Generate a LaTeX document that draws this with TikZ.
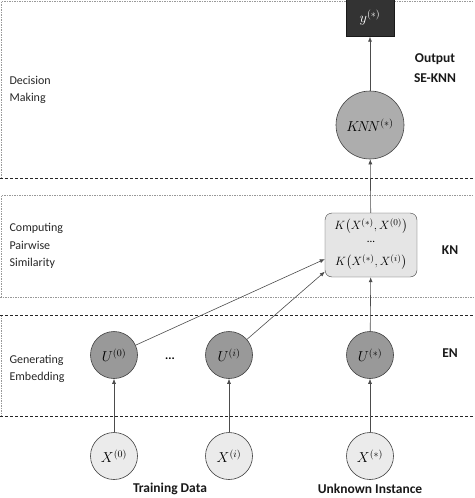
\documentclass[tikz,border=0pt]{standalone}
\usepackage{fontspec}
\setmainfont{Carlito}
\usepackage{amsmath}
\usetikzlibrary{arrows.meta}
\begin{document}
\begin{tikzpicture}[x=1pt,y=-1pt,
  graybound/.style={draw=black!40, dash pattern=on 1.5pt off 1pt, line width=0.8pt},
  blackbound/.style={draw=black!85, dash pattern=on 3pt off 2pt, line width=0.9pt},
  lbl/.style={anchor=west, align=left, font=\fontsize{12}{17.5}\selectfont, text=black!85},
  bold/.style={font=\bfseries\fontsize{13.5}{20}\selectfont, text=black!90, align=center},
  mathf/.style={font=\fontsize{14}{16}\selectfont},
  unode/.style={circle, draw=black!75, fill=black!40, minimum size=47pt, inner sep=0pt, line width=0.6pt, mathf},
  xnode/.style={circle, draw=black!75, fill=black!8, minimum size=47pt, inner sep=0pt, line width=0.6pt, mathf},
  knnnode/.style={circle, draw=black!75, fill=black!32, minimum size=68pt, inner sep=0pt, line width=0.6pt, mathf},
  conn/.style={draw=black!70, line width=0.6pt, -{Latex[length=5pt,width=4pt]}},
]
\useasboundingbox (0,0) rectangle (474,498);
% bands
\draw[graybound] (1,178) -- (1,1) -- (474,1);
\draw[blackbound] (0,178) -- (474,178);
\draw[graybound] (1,297) -- (1,195) -- (474,195);
\draw[graybound] (0,297) -- (474,297);
\draw[graybound] (1,315) -- (1,416);
\draw[blackbound] (0,315) -- (474,315);
\draw[blackbound] (0,416) -- (474,416);
% side labels
\node[lbl] (ldm) at (6,90) {Decision\\Making};
\node[lbl] (lcp) at (6,246) {Computing\\Pairwise\\Similarity};
\node[lbl] (lge) at (6,369) {Generating\\Embedding};
\node[bold] (lout) at (435,68) {Output\\SE-KNN};
\node[bold] (lkn) at (450,250) {KN};
\node[bold] (len) at (450,353) {EN};
\node[bold] (ltd) at (170,489) {Training Data};
\node[bold] (lui) at (370,489) {Unknown Instance};
% nodes
\node[draw=black!90, fill=black!80, minimum width=48pt, minimum height=37pt, inner sep=0pt, text=white, mathf] (y) at (370,18) {$y^{(*)}$};
\node[knnnode] (knn) at (370,125) {$K\!N\!N^{(*)}$};
\node[draw=black!75, fill=black!10, rounded corners=7pt, minimum width=92pt, minimum height=64pt, inner sep=0pt] (k) at (371,245) {};
\node[font=\fontsize{12.5}{14}\selectfont] (k1) at (371,226) {$K\bigl(X^{(*)},X^{(0)}\bigr)$};
\node[font=\fontsize{11}{12}\selectfont] (k2) at (371,242) {...};
\node[font=\fontsize{12.5}{14}\selectfont] (k3) at (371,262) {$K\bigl(X^{(*)},X^{(i)}\bigr)$};
\node[unode] (u0) at (114,355) {$U^{(0)}$};
\node[unode] (ui) at (229,355) {$U^{(i)}$};
\node[unode] (us) at (370,355) {$U^{(*)}$};
\node[font=\bfseries\large] (dots) at (170,359) {...};
\node[xnode] (x0) at (114,456) {$X^{(0)}$};
\node[xnode] (xi) at (229,456) {$X^{(i)}$};
\node[xnode] (xs) at (370,456) {$X^{(*)}$};
% connectors
\draw[conn] (x0) -- (u0);
\draw[conn] (xi) -- (ui);
\draw[conn] (xs) -- (us);
\draw[conn] (u0) -- (k.-163);
\draw[conn] (ui) -- (k.-150);
\draw[conn] (us) -- (k);
\draw[conn] (k) -- (knn);
\draw[conn] (knn) -- (y);
\end{tikzpicture}
\end{document}
